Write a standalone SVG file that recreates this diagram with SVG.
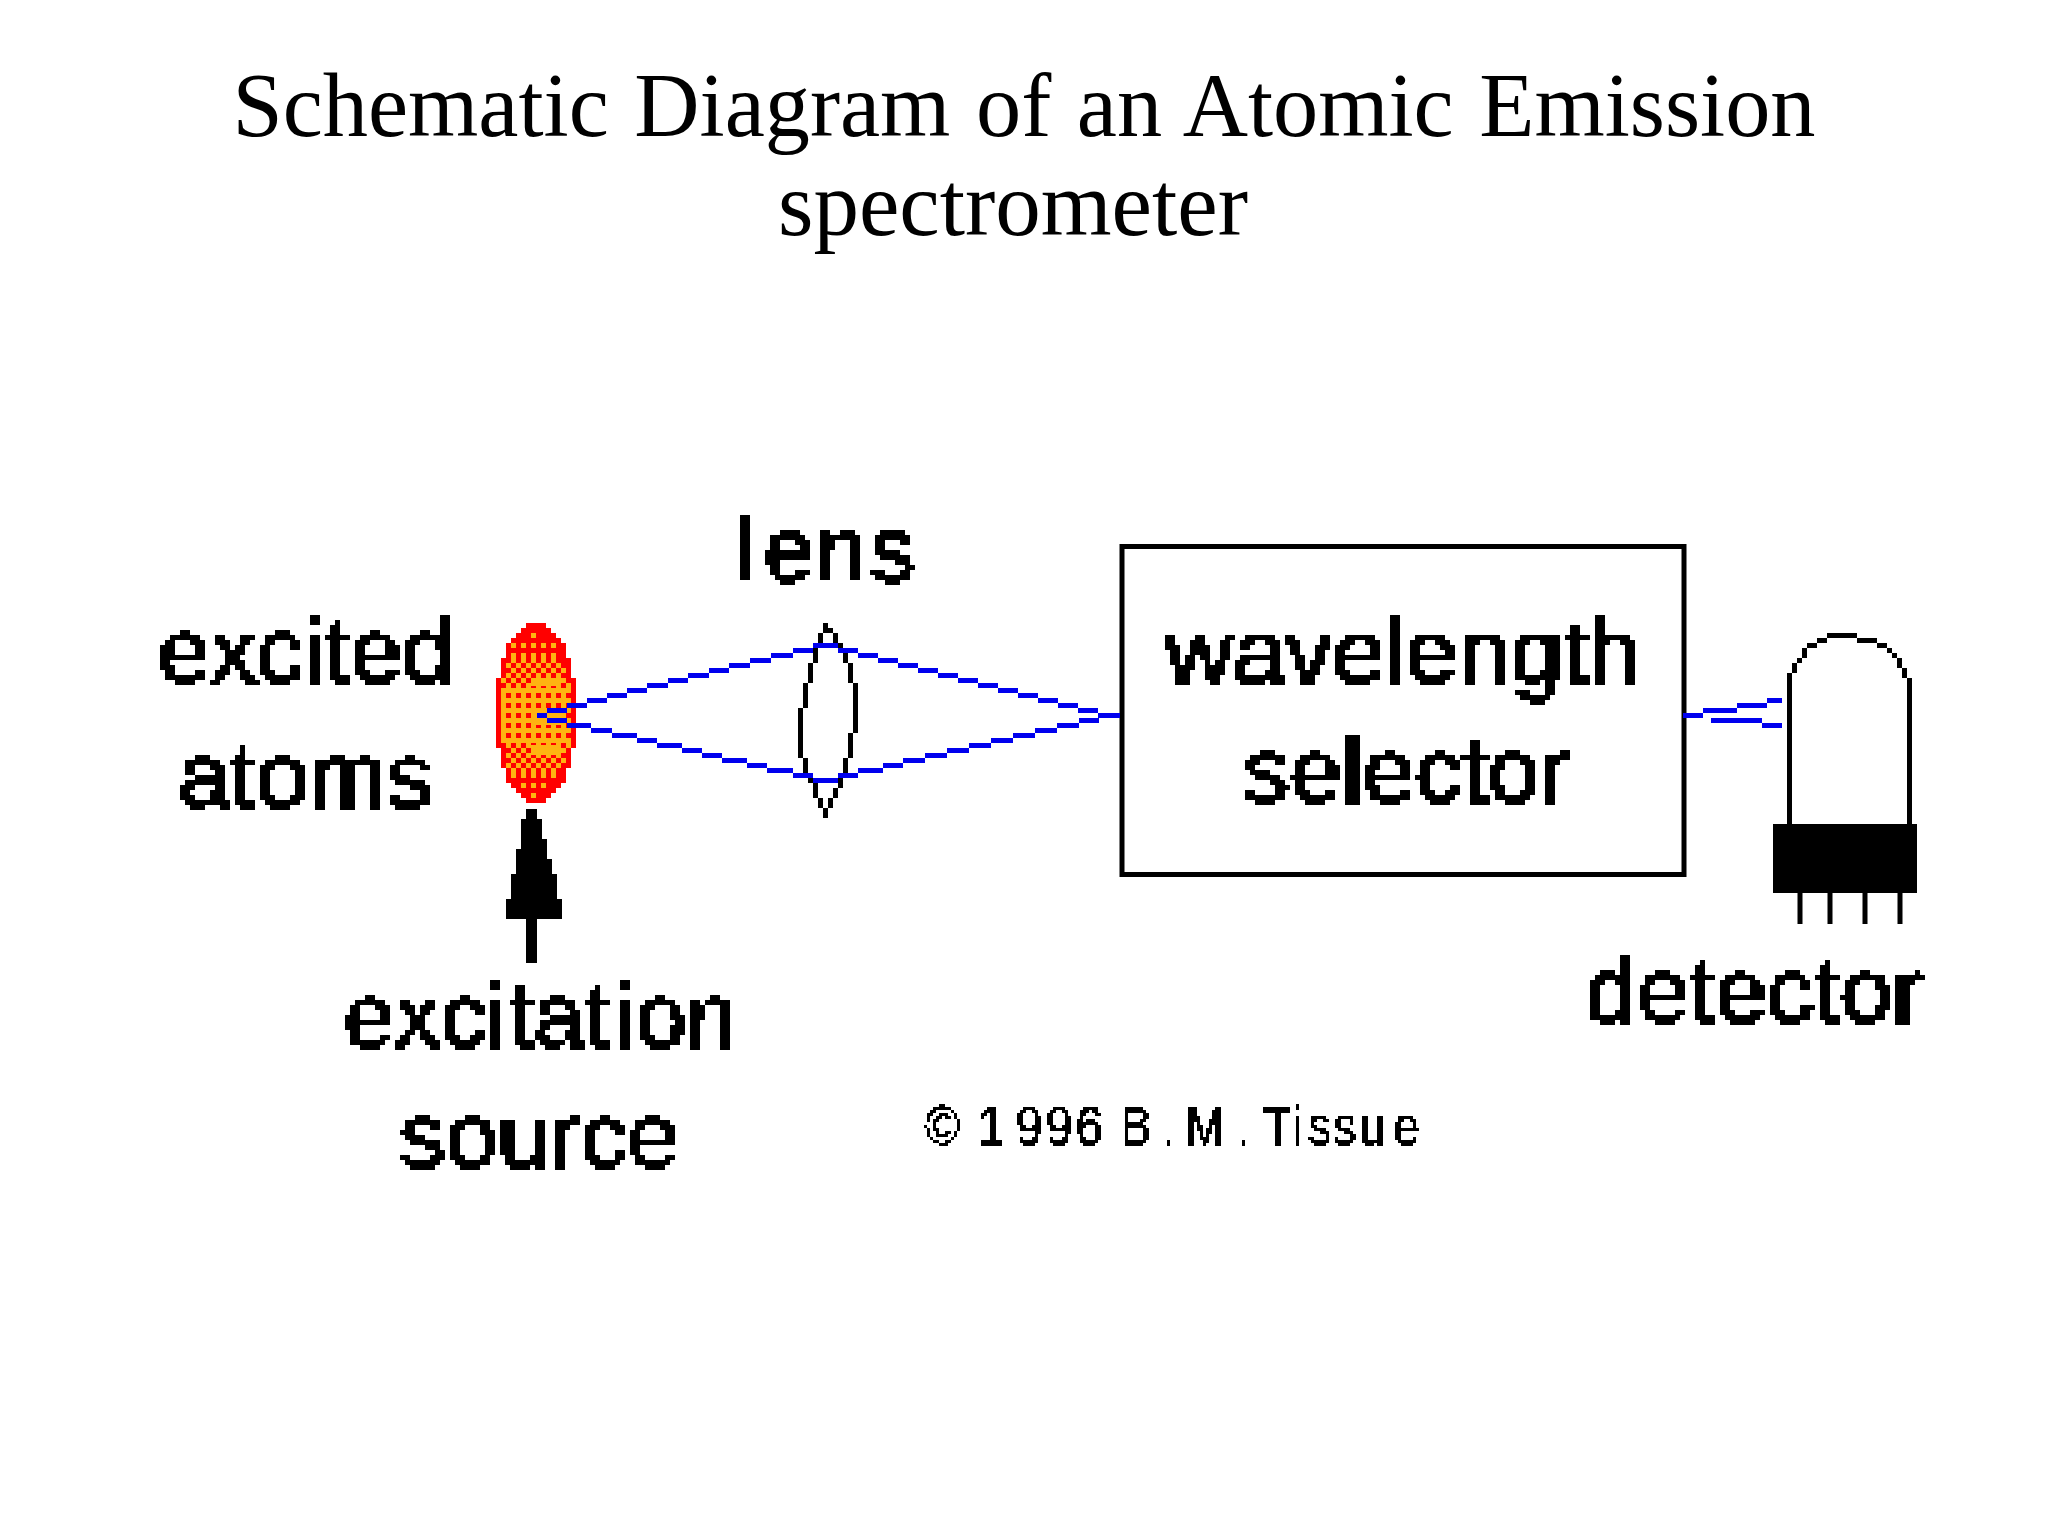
<svg xmlns="http://www.w3.org/2000/svg" width="2048" height="1536" viewBox="0 0 2048 1536">
<style>
.title{font-family:"Liberation Serif","Times New Roman",serif;font-size:90px;word-spacing:3px;fill:#000;text-anchor:middle}
.lab{font-family:"Liberation Sans",Arial,sans-serif;font-size:90px;font-variant-ligatures:none;font-kerning:none;fill:#000;stroke:#000;stroke-width:2.6px}
.small{font-family:"Liberation Sans",Arial,sans-serif;font-size:56px;fill:#000;stroke:#000;stroke-width:.8px}
.ray{fill:none;stroke:#0000ee;stroke-width:5}
</style>
<defs>
<pattern id="chk" patternUnits="userSpaceOnUse" x="496" y="623" width="10" height="10"><rect width="10" height="10" fill="#ff0000"/><rect width="5" height="5" fill="#ffb311"/><rect x="5" y="5" width="5" height="5" fill="#ffb311"/></pattern>
<pattern id="dots" patternUnits="userSpaceOnUse" x="496" y="623" width="10" height="10"><rect width="10" height="10" fill="#ffb311"/><rect width="5" height="5" fill="#ff0000"/></pattern>
<filter id="px" filterUnits="userSpaceOnUse" primitiveUnits="userSpaceOnUse" x="0" y="0" width="2048" height="1536" color-interpolation-filters="sRGB">
<feFlood x="2" y="2" width="1" height="1" flood-color="#000"/>
<feComposite width="5" height="5"/>
<feTile result="a"/>
<feComposite in="SourceGraphic" in2="a" operator="in"/>
<feMorphology operator="dilate" radius="2"/>
<feComponentTransfer><feFuncA type="discrete" tableValues="0 0 1 1"/></feComponentTransfer>
</filter>
<filter id="px3" filterUnits="userSpaceOnUse" primitiveUnits="userSpaceOnUse" x="0" y="0" width="2048" height="1536" color-interpolation-filters="sRGB">
<feFlood x="1" y="1" width="1" height="1" flood-color="#000"/>
<feComposite width="3" height="3"/>
<feTile result="a"/>
<feComposite in="SourceGraphic" in2="a" operator="in"/>
<feMorphology operator="dilate" radius="1"/>
<feComponentTransfer><feFuncA type="discrete" tableValues="0 0 1 1"/></feComponentTransfer>
</filter>
</defs>
<rect width="2048" height="1536" fill="#fff"/>
<g id="title">
<text class="title" x="1024" y="136" textLength="1583" lengthAdjust="spacingAndGlyphs">Schematic Diagram of an Atomic Emission</text>
<text class="title" x="1013" y="235" textLength="470" lengthAdjust="spacingAndGlyphs">spectrometer</text>
</g>
<g id="excited-atoms">
<polygon fill="#ff0000" points="526,623 546,623 546,628 551,628 551,633 556,633 556,638 561,638 561,643 566,643 566,658 571,658 571,678 576,678 576,748 571,748 571,768 566,768 566,783 561,783 561,788 556,788 556,793 551,793 551,798 546,798 546,803 526,803 526,798 521,798 521,793 516,793 516,788 511,788 511,783 506,783 506,768 501,768 501,748 496,748 496,678 501,678 501,658 506,658 506,643 511,643 511,638 516,638 516,633 521,633 521,628 526,628"/>
<polygon fill="url(#chk)" points="511,658 561,658 561,663 566,663 566,678 571,678 571,748 566,748 566,768 561,768 561,773 511,773 511,768 506,768 506,748 501,748 501,678 506,678 506,663 511,663"/>
<rect x="501" y="688" width="70" height="55" fill="url(#dots)"/>
<rect x="533" y="708" width="33" height="17" fill="#ffb311"/>
<rect x="531" y="678" width="30" height="8" fill="#ffb311"/>
<rect x="531" y="745" width="30" height="10" fill="#ffb311"/>
<path fill="#ffb311" d="M531 633h5v5h-5zM511 643h5v5h-5zM521 643h5v5h-5zM531 643h5v5h-5zM541 643h5v5h-5zM551 643h5v5h-5zM511 653h5v5h-5zM521 653h5v5h-5zM531 653h5v5h-5zM541 653h5v5h-5zM551 653h5v5h-5zM511 773h5v5h-5zM521 773h5v5h-5zM531 773h5v5h-5zM541 773h5v5h-5zM551 773h5v5h-5zM521 783h5v5h-5zM531 783h5v5h-5zM541 783h5v5h-5zM531 793h5v5h-5z"/>
<text class="lab" x="158" y="682" textLength="296" lengthAdjust="spacingAndGlyphs" filter="url(#px)">excited</text>
<text class="lab" x="178" y="807" textLength="255" lengthAdjust="spacingAndGlyphs" filter="url(#px)">atoms</text>
</g>
<g id="excitation-source">
<polygon fill="#000" points="526,809 537,809 537,819 542,819 542,839 547,839 547,859 552,859 552,874 557,874 557,899 562,899 562,919 537,919 537,963 526,963 526,919 506,919 506,899 511,899 511,874 516,874 516,849 521,849 521,819 526,819"/>
<text class="lab" x="344 395 441 487 508 534 585 613 636 687" y="1047" filter="url(#px)">excitation</text>
<text class="lab" x="399" y="1167" textLength="280" lengthAdjust="spacingAndGlyphs" filter="url(#px)">source</text>
</g>
<g id="lens">
<path fill="#000" d="M823 623h5v10h-5zM828 628h5v5h-5zM818 633h5v10h-5zM833 633h5v10h-5zM813 643h5v20h-5zM838 643h5v5h-5zM843 653h5v10h-5zM808 663h5v20h-5zM848 663h5v20h-5zM803 683h5v25h-5zM853 683h5v50h-5zM798 708h5v50h-5zM848 733h5v25h-5zM803 758h5v15h-5zM843 758h5v15h-5zM808 778h5v5h-5zM838 778h5v10h-5zM813 783h5v15h-5zM833 788h5v10h-5zM818 798h5v10h-5zM828 798h5v10h-5zM823 808h5v10h-5z"/>
<text class="lab" x="733 764 817 870" y="581" filter="url(#px)">lens</text>
</g>
<g id="wavelength-selector">
<rect x="1122" y="546.5" width="562" height="328" fill="none" stroke="#000" stroke-width="5"/>
<text class="lab" x="1165" y="683" textLength="476" lengthAdjust="spacingAndGlyphs" filter="url(#px)">wavelength</text>
<text class="lab" x="1243" y="802" textLength="328" lengthAdjust="spacingAndGlyphs" filter="url(#px)">selector</text>
</g>
<g id="detector">
<path fill="#000" d="M1787 824V673h5V663h5V658h5V648h5V643h10V638h10V633h30v5h20v5h10v5h5v5h5v5h5v10h5v10h5V824h-5V678h-5V668h-5V658h-5V653h-5V648h-10V643h-20V638h-30v5h-10v5h-10v10h-5v5h-5v10h-5V824z"/>
<rect x="1773" y="824" width="144" height="69" fill="#000"/>
<path d="M1800 893V924M1830 893V924M1865 893V924M1900 893V924" fill="none" stroke="#000" stroke-width="5"/>
<text class="lab" x="1585" y="1022" textLength="338" lengthAdjust="spacingAndGlyphs" filter="url(#px)">detector</text>
</g>
<g id="copyright" filter="url(#px3)">
<text class="small" transform="translate(0,1145) scale(.85,1)" x="1088.2 1147 1150.6 1195.3 1230.6 1265.9 1305.9 1317.6 1367 1382.4 1394.1 1455.3 1470.6 1485.9 1520 1538.8 1568.2 1598.8 1638.8" y="0" xml:space="preserve">© 1996 B. M. Tissue</text>
</g>
<g id="connectors" transform="translate(0,-.5)">
<path class="ray" d="M537 716h10M547 711h20M567 706h20M587 701h20M607 696h20M627 691h20M647 686h21M668 681h20M688 676h21M709 671h20M729 666h21M750 661h21M771 656h22M793 651h20M813 646h25M838 651h20M858 656h20M878 661h20M898 666h20M918 671h20M938 676h20M958 681h20M978 686h20M998 691h20M1018 696h20M1038 701h20M1058 706h20M1078 711h20M1098 716h22"/>
<path class="ray" d="M547 721h20M567 726h24M591 731h21M612 736h25M637 741h20M657 746h25M682 751h20M702 756h20M722 761h25M747 766h20M767 771h26M793 776h20M813 781h25M838 776h20M858 771h25M883 766h20M903 761h22M925 756h22M947 751h22M969 746h22M991 741h22M1013 736h22M1035 731h22M1057 726h22M1079 721h20"/>
<path class="ray" d="M1683 716h20M1703 711h34M1737 706h30M1767 701h15M1711 721h51M1762 726h20"/>
</g>
</svg>
